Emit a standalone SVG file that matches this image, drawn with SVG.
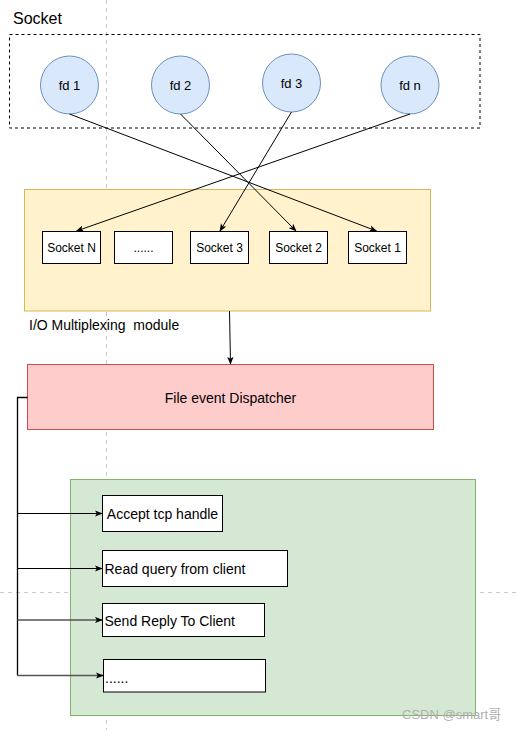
<svg xmlns="http://www.w3.org/2000/svg" width="516" height="730" viewBox="0 0 516 730">
<style>
text{font-family:"Liberation Sans",Arial,sans-serif;fill:#000}
.guide{stroke:#c8c8c8;stroke-width:1;stroke-dasharray:4 4;fill:none}
.fd{fill:#dae8fc;stroke:#6c8ebf;stroke-width:1}
.sock{fill:#fff;stroke:#000;stroke-width:1}
.c{font-size:13px;text-anchor:middle}
.s{font-size:12px;text-anchor:middle}
.b{font-size:14px}
.edge{stroke:#000;stroke-width:1;fill:none}
</style>
<defs>
<marker id="arr" viewBox="0 0 10 8" refX="9" refY="4" markerWidth="8" markerHeight="7" markerUnits="userSpaceOnUse" orient="auto">
<path d="M0,0 L10,4 L0,8 L2.5,4 z" fill="#000"/>
</marker>
</defs>
<rect width="516" height="730" fill="#fff"/>
<g id="guides">
<line class="guide" x1="106.5" y1="0" x2="106.5" y2="730"/>
<line class="guide" x1="0" y1="592.5" x2="516" y2="592.5"/>
</g>
<g id="socket-group">
<text x="13" y="24" style="font-size:16px">Socket</text>
<rect x="9.5" y="34.5" width="470.5" height="93.5" fill="none" stroke="#000" stroke-width="1" stroke-dasharray="3 3"/>
</g>
<g id="fd1"><circle class="fd" cx="69.5" cy="85" r="29"/><text class="c" x="69.5" y="89.5">fd 1</text></g>
<g id="fd2"><circle class="fd" cx="180.5" cy="85" r="29"/><text class="c" x="180.5" y="89.5">fd 2</text></g>
<g id="fd3"><circle class="fd" cx="291.5" cy="83" r="29"/><text class="c" x="291.5" y="87.5">fd 3</text></g>
<g id="fdn"><circle class="fd" cx="410" cy="85" r="29"/><text class="c" x="410" y="89.5">fd n</text></g>
<g id="io-module">
<rect x="24.5" y="189.5" width="406" height="121.5" fill="#fff2cc" stroke="#d6b656" stroke-width="1"/>
<text x="29" y="329.5" class="b" style="white-space:pre">I/O Multiplexing  module</text>
</g>
<g id="socketN"><rect class="sock" x="42.5" y="231.5" width="58" height="32"/><text class="s" x="71.5" y="251.5">Socket N</text></g>
<g id="socketDots"><rect class="sock" x="114.5" y="231.5" width="58" height="32"/><text class="s" x="143.5" y="251.5">......</text></g>
<g id="socket3"><rect class="sock" x="190.5" y="231.5" width="58" height="32"/><text class="s" x="219.5" y="251.5">Socket 3</text></g>
<g id="socket2"><rect class="sock" x="269.5" y="231.5" width="58" height="32"/><text class="s" x="298.5" y="251.5">Socket 2</text></g>
<g id="socket1"><rect class="sock" x="348.5" y="231.5" width="58" height="32"/><text class="s" x="377.5" y="251.5">Socket 1</text></g>
<g id="dispatcher">
<rect x="27.5" y="364.5" width="406" height="65" fill="#ffcccc" stroke="#cf4c4c" stroke-width="1"/>
<text x="230.5" y="403" class="b" text-anchor="middle">File event Dispatcher</text>
</g>
<g id="handlers">
<rect x="70.5" y="479.5" width="405" height="236" fill="#d5e8d4" stroke="#82b366" stroke-width="1"/>
</g>
<g id="accept"><rect class="sock" x="102.5" y="495.5" width="120" height="36"/><text class="b" x="162.5" y="518.5" text-anchor="middle">Accept tcp handle</text></g>
<g id="read"><rect class="sock" x="102.5" y="550.5" width="185" height="36"/><text class="b" x="104.5" y="574">Read query from client</text></g>
<g id="send"><rect class="sock" x="102.5" y="603.5" width="162" height="33"/><text class="b" x="104.5" y="626">Send Reply To Client</text></g>
<g id="more"><rect class="sock" x="103.5" y="659.5" width="162" height="32.5"/><text class="b" x="105" y="682.5">......</text></g>
<g id="connectors">
<line class="edge" x1="69.5" y1="114" x2="376.5" y2="231" marker-end="url(#arr)"/>
<line class="edge" x1="180.5" y1="114" x2="296" y2="231" marker-end="url(#arr)"/>
<line class="edge" x1="291.5" y1="112" x2="220" y2="231" marker-end="url(#arr)"/>
<line class="edge" x1="410" y1="114" x2="76.5" y2="231" marker-end="url(#arr)"/>
<line class="edge" x1="229.5" y1="311" x2="230.5" y2="364" marker-end="url(#arr)"/>
<polyline class="edge" points="27.5,397.5 17.5,397.5 17.5,675.5" style="stroke-width:1.3"/>
<line class="edge" x1="17.5" y1="513.5" x2="102" y2="513.5" marker-end="url(#arr)"/>
<line class="edge" x1="17.5" y1="568.5" x2="102" y2="568.5" marker-end="url(#arr)"/>
<line class="edge" x1="17.5" y1="620" x2="102" y2="620" marker-end="url(#arr)" style="stroke:#555;stroke-width:1.5"/>
<line class="edge" x1="17.5" y1="675.5" x2="103" y2="675.5" marker-end="url(#arr)" style="stroke:#555;stroke-width:1.5"/>
</g>
<text x="402" y="719" style="font-size:13px;fill:#b0b0b0">CSDN @smart<tspan style="font-family:'Noto Sans CJK SC',sans-serif">哥</tspan></text>
</svg>
